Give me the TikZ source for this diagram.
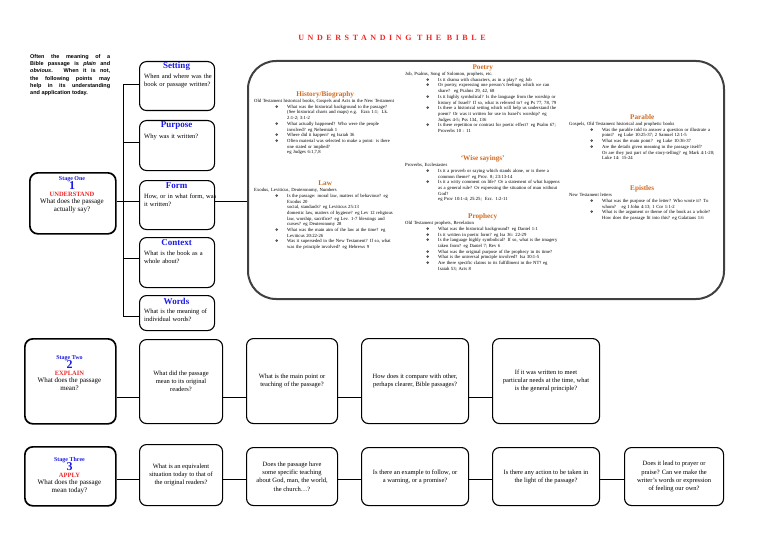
\documentclass[tikz,border=0pt]{standalone}
\usepackage{fontspec}
\setmainfont{Liberation Serif}
\newfontfamily\djf{DejaVu Sans}
\newfontfamily\introf{Liberation Sans}
\newfontfamily\titlef[LetterSpace=45]{Liberation Serif}
\definecolor{hblue}{HTML}{1A1AE6}
\definecolor{hred}{HTML}{F02828}
\definecolor{horange}{HTML}{D2691E}
\newcommand\itm{\par\hangindent=33pt\noindent\hspace*{21pt}\makebox[12pt][l]{\djf\fontsize{3.8}{4}\selectfont ❖}}
\newcommand\cnt{\par\hangindent=33pt\noindent\hspace*{33pt}}
\newcommand\hd[1]{\par\centering{\fontsize{7.2}{9.5}\selectfont\bfseries\color{horange}#1}\par\raggedright}
\begin{document}
\begin{tikzpicture}[x=1pt,y=-1pt,
  box/.style={draw,line width=1.1pt,rounded corners=7pt,anchor=north west,inner sep=0pt},
  stagebox/.style={draw,line width=1.7pt,rounded corners=8pt,anchor=north west,inner sep=0pt},
  qtext/.style={font=\fontsize{6.5}{8}\selectfont,align=left,text width=74pt,inner sep=0pt,anchor=north west},
  rtext/.style={font=\fontsize{6.5}{8.2}\selectfont,align=center,inner sep=0pt},
  stext/.style={font=\fontsize{7}{8}\selectfont,align=center,inner sep=0pt},
  colt/.style={font=\fontsize{4.7}{5.7}\selectfont,inner sep=0pt,anchor=north west,align=left},
  heading/.style={font=\fontsize{9}{10}\selectfont\bfseries,text=hblue,inner sep=0pt},
  conn/.style={line width=1pt}]
\useasboundingbox (0,0) rectangle (768,559);
% title
\node[inner sep=0pt,text=hred] (title) at (392,38) {\titlef\fontsize{8}{9}\selectfont\bfseries UNDERSTANDING THE BIBLE};
% intro
\node[inner sep=0pt,anchor=north west,text width=80pt,align=justify,font=\introf\fontsize{5.5}{7.3}\selectfont\bfseries] (intro) at (30,54)
 {Often the meaning of a\linebreak Bible passage is \textit{plain} and\linebreak \textit{obvious}. When it is not,\linebreak the following points may\linebreak help in its understanding\linebreak and application today.\par};
% stage one
\node[stagebox,minimum width=86pt,minimum height=61pt] (s1) at (29,172) {};
\node[stext,anchor=north] (s1t) at (72,176) {\textcolor{hblue}{\fontsize{6}{7}\selectfont\bfseries Stage One}\\[-1pt]
 \textcolor{hblue}{\fontsize{12}{12}\selectfont\bfseries 1}\\[-1pt]
 \textcolor{hred}{\fontsize{6.5}{8}\selectfont\bfseries UNDERSTAND}\\[-1pt]
 What does the passage\\actually say?};
% left column
\node[box,minimum width=75pt,minimum height=49pt] (set) at (139,61) {};
\node[box,minimum width=75pt,minimum height=50pt] (pur) at (139,120) {};
\node[box,minimum width=75pt,minimum height=49pt] (frm) at (139,180) {};
\node[box,minimum width=75pt,minimum height=50pt] (ctx) at (139,237) {};
\node[box,minimum width=75pt,minimum height=35pt] (wrd) at (139,295) {};
\node[heading] (seth) at (176.5,66) {Setting};
\node[qtext] (sett) at (144,74) {When and where was the book or passage written?};
\node[heading] (purh) at (176.5,126) {Purpose};
\node[qtext] (purt) at (144,134) {Why was it written?};
\node[heading] (frmh) at (176.5,186) {Form};
\node[qtext] (frmt) at (144,194) {How, or in what form, was it written?};
\node[heading] (ctxh) at (176.5,243) {Context};
\node[qtext] (ctxt) at (144,251) {What is the book as a whole about?};
\node[heading] (wrdh) at (176.5,301) {Words};
\node[qtext] (wrdt) at (144,309) {What is the meaning of individual words?};
\coordinate (vtop) at (123,85);
\coordinate (vbot) at (123,316);
\coordinate (vmid) at (123,201);
\draw[conn] (vtop) -- (vbot);
\draw[conn] (s1.east |- vmid) -- (vmid);
\draw[conn] (vtop) -- (set.west |- vtop);
\draw[conn] (123,143) -- (pur.west |- 0,143);
\draw[conn] (vmid) -- (frm.west |- vmid);
\draw[conn] (123,258) -- (ctx.west |- 0,258);
\draw[conn] (vbot) -- (wrd.west |- vbot);
% big box
\node[draw=black!75,line width=2pt,rounded corners=28pt,anchor=north west,inner sep=0pt,minimum width=476pt,minimum height=238pt] (big) at (247,60) {};
\draw[conn] (frm.east |- vmid) -- (big.west |- vmid);
% column 1
\node[colt,text width=142pt] (c1a) at (254,91) {\hd{History/Biography}
Old Testament historical books, Gospels and Acts in the New Testament
\itm What was the historical background to the passage? (See historical charts and maps) e.g. \ Ezra 1:1; \ Lk. \ 2:1-2; 3:1-2
\itm What actually happened? Who were the people involved? eg Nehemiah 1
\itm Where did it happen? eg Isaiah 36
\itm Often material was selected to make a point: is there one stated or implied?
\cnt eg Judges 6:1,7,8\par};
\node[colt,text width=142pt] (c1b) at (254,180) {\hd{Law}
Exodus, Leviticus, Deuteronomy, Numbers
\itm Is the passage: moral law, matters of behaviour? eg Exodus 20
\cnt social, standards? eg Leviticus 25:13
\cnt domestic law, matters of hygiene? eg Lev 12 religious law, worship, sacrifice? eg Lev. 1-7 blessings and curses? eg Deuteronomy 28
\itm What was the main aim of the law at the time? eg Leviticus 20:22-26
\itm Was it superseded in the New Testament? If so, what was the principle involved? eg Hebrews 9\par};
% column 2
\node[colt,text width=155pt] (c2a) at (405,64) {\hd{Poetry}
Job, Psalms, Song of Solomon, prophets, etc.
\itm Is it drama with characters, as in a play? eg Job
\itm Or poetry, expressing one person's feelings which we can share? \ eg Psalms 29, 42, 68
\itm Is it highly symbolical? Is the language from the worship or history of Israel? If so, what is referred to? eg Ps 77, 78, 79
\itm Is there a historical setting which will help us understand the poem? Or was it written for use in Israel's worship? eg \ Judges 4-5; Pss 134, 136
\itm Is there repetition or contrast for poetic effect? eg Psalm 67; \ Proverbs 10 : 11\par};
\node[colt,text width=155pt] (c2b) at (405,155) {\hd{`Wise sayings'}
Proverbs, Ecclesiastes
\itm Is it a proverb or saying which stands alone, or is there a common theme? eg Prov. 8; 23:13-14
\itm Is it a witty comment on life? Or a statement of what happens as a general rule? Or expressing the situation of man without God?
\cnt eg Prov 10:1-4; 25:25; \ Ecc. 1:2-11\par};
\node[colt,text width=155pt] (c2c) at (405,213) {\hd{Prophecy}
Old Testament prophets, Revelation
\itm What was the historical background? eg Daniel 1:1
\itm Is it written in poetic form? eg Isa 36: 22-29
\itm Is the language highly symbolical? If so, what is the imagery taken from? eg Daniel 7; Rev 6
\itm What was the original purpose of the prophecy in its time?
\itm What is the universal principle involved? Isa 30:1-5
\itm Are there specific claims to its fulfillment in the NT? eg Isaiah 53; Acts 8\par};
% column 3
\node[colt,text width=146pt] (c3a) at (569,114) {\hd{Parable}
Gospels, Old Testament historical and prophetic books
\itm Was the parable told to answer a question or illustrate a point? \ eg Luke 10:25-37; 2 Samuel 12:1-5
\itm What was the main point? \ eg Luke 10:36-37
\itm Are the details given meaning in the passage itself?
\cnt Or are they just part of the story-telling? eg Mark 4:1-20; Luke 14: 15-24\par};
\node[colt,text width=146pt] (c3b) at (569,185) {\hd{Epistles}
New Testament letters
\itm What was the purpose of the letter? Who wrote it? To whom? \ \ eg I John 4:13; 1 Cor 1:1-2
\itm What is the argument or theme of the book as a whole? How does the passage fit into this? eg Galatians 1:6\par};
% stage two
\node[stagebox,minimum width=91pt,minimum height=85pt] (s2) at (24,338) {};
\node[stext] (s2t) at (69.5,373) {\textcolor{hblue}{\fontsize{6}{7}\selectfont\bfseries Stage Two}\\[-1pt]
 \textcolor{hblue}{\fontsize{12}{12}\selectfont\bfseries 2}\\[-1pt]
 \textcolor{hred}{\fontsize{6.5}{8}\selectfont\bfseries EXPLAIN}\\[-1pt]
 What does the passage\\mean?};
\node[box,minimum width=83pt,minimum height=84pt] (b21) at (139,339) {};
\node[box,minimum width=91pt,minimum height=85pt] (b22) at (246,338) {};
\node[box,minimum width=107pt,minimum height=85pt] (b23) at (361,338) {};
\node[box,minimum width=107pt,minimum height=85pt] (b24) at (492,338) {};
\node[rtext] (t21) at (b21.center) {What did the passage\\mean to its original\\readers?};
\node[rtext] (t22) at (b22.center) {What is the main point or\\teaching of the passage?};
\node[rtext] (t23) at (b23.center) {How does it compare with other,\\perhaps clearer, Bible passages?};
\node[rtext] (t24) at (b24.center) {If it was written to meet\\particular needs at the time, what\\is the general principle?};
\coordinate (r2) at (0,397);
\draw[conn] (s2.east |- r2) -- (b21.west |- r2);
\draw[conn] (b21.east |- r2) -- (b22.west |- r2);
\draw[conn] (b22.east |- r2) -- (b23.west |- r2);
\draw[conn] (b23.east |- r2) -- (b24.west |- r2);
% stage three
\node[stagebox,minimum width=91pt,minimum height=59pt] (s3) at (24,446) {};
\node[stext] (s3t) at (69.5,475.5) {\textcolor{hblue}{\fontsize{6}{7}\selectfont\bfseries Stage Three}\\[-1pt]
 \textcolor{hblue}{\fontsize{12}{12}\selectfont\bfseries 3}\\[-1pt]
 \textcolor{hred}{\fontsize{6.5}{8}\selectfont\bfseries APPLY}\\[-1pt]
 What does the passage\\mean today?};
\node[box,minimum width=83pt,minimum height=61pt] (b31) at (139,444) {};
\node[box,minimum width=91pt,minimum height=58pt] (b32) at (246,447) {};
\node[box,minimum width=107pt,minimum height=58pt] (b33) at (361,447) {};
\node[box,minimum width=107pt,minimum height=58pt] (b34) at (492,447) {};
\node[box,minimum width=99pt,minimum height=58pt] (b35) at (624,447) {};
\node[rtext] (t31) at (b31.center) {What is an equivalent\\situation today to that of\\the original readers?};
\node[rtext] (t32) at (b32.center) {Does the passage have\\some specific teaching\\about God, man, the world,\\the church\dots?};
\node[rtext] (t33) at (b33.center) {Is there an example to follow, or\\a warning, or a promise?};
\node[rtext] (t34) at (b34.center) {Is there any action to be taken in\\the light of the passage?};
\node[rtext] (t35) at (b35.center) {Does it lead to prayer or\\praise? Can we make the\\writer's words or expression\\of feeling our own?};
\coordinate (r3) at (0,479);
\draw[conn] (s3.east |- r3) -- (b31.west |- r3);
\draw[conn] (b31.east |- r3) -- (b32.west |- r3);
\draw[conn] (b32.east |- r3) -- (b33.west |- r3);
\draw[conn] (b33.east |- r3) -- (b34.west |- r3);
\draw[conn] (b34.east |- r3) -- (b35.west |- r3);
\end{tikzpicture}
\end{document}
